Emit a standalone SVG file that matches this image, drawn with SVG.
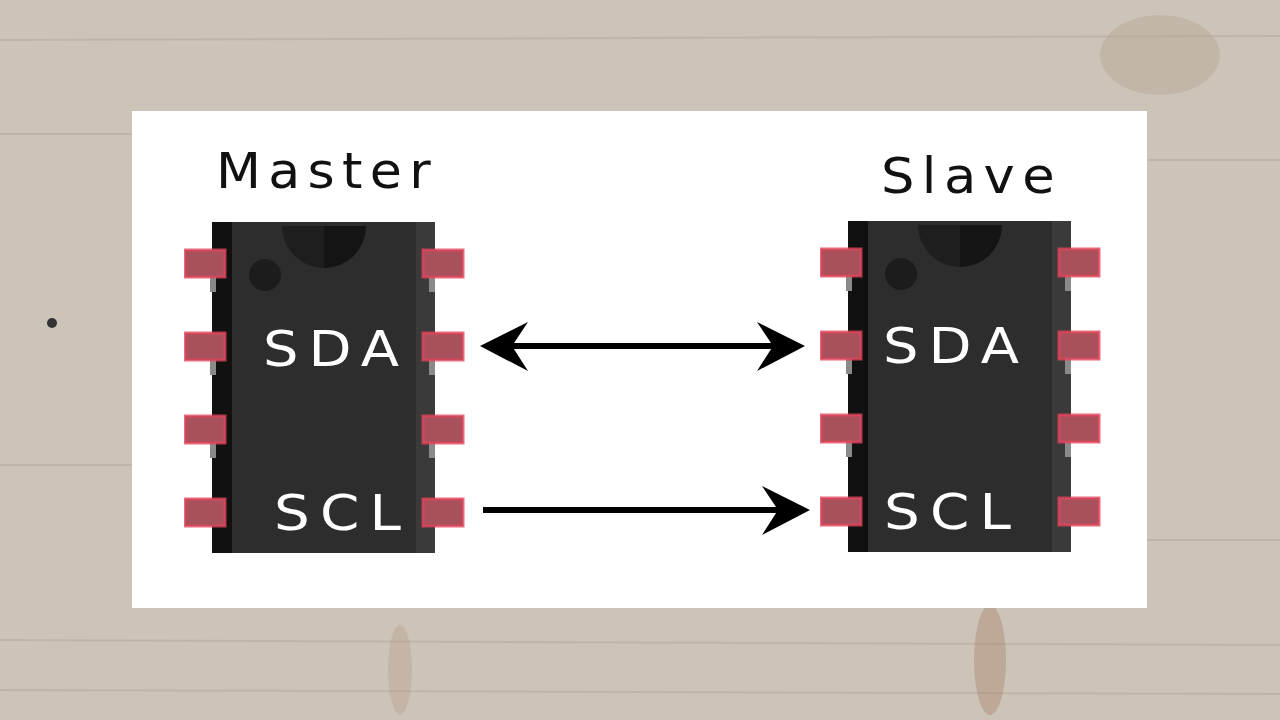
<svg xmlns="http://www.w3.org/2000/svg" width="1280" height="720" viewBox="0 0 1280 720">
<defs>
<style>
.body{fill:#2d2d2d}
.side{fill:#111}
.rside{fill:#3a3a3a}
.leg{fill:#8a8a8a}
.pad{fill:#a8505c;stroke:#e0455a;stroke-width:3;stroke-opacity:0.8}
.lbl{font-family:"DejaVu Sans",Verdana,sans-serif;fill:#fff;font-size:50px;letter-spacing:9px}
.ttl{font-family:"DejaVu Sans",Verdana,sans-serif;fill:#111;font-size:50px;letter-spacing:7px}
.ln{stroke:#000;stroke-width:6;fill:none}
</style>
<symbol id="chip" viewBox="0 0 290 332">
<rect x="28" y="0" width="223" height="331" class="body"/>
<rect x="28" y="0" width="20" height="331" class="side"/>
<rect x="232" y="0" width="19" height="331" class="rside"/>
<rect x="26" y="52" width="6" height="18" class="leg"/><rect x="26" y="135" width="6" height="18" class="leg"/><rect x="26" y="218" width="6" height="18" class="leg"/>
<rect x="245" y="52" width="6" height="18" class="leg"/><rect x="245" y="135" width="6" height="18" class="leg"/><rect x="245" y="218" width="6" height="18" class="leg"/>
<path d="M98 4 A42 42 0 0 0 182 4 Z" fill="#1e1e1e"/>
<path d="M140 4 L182 4 A42 42 0 0 1 140 46 Z" fill="#141414"/>
<circle cx="81" cy="53" r="16" fill="#1c1c1c"/>
<rect x="1" y="28" width="40" height="27" class="pad"/><rect x="1" y="111" width="40" height="27" class="pad"/><rect x="1" y="194" width="40" height="27" class="pad"/><rect x="1" y="277" width="40" height="27" class="pad"/>
<rect x="239" y="28" width="40" height="27" class="pad"/><rect x="239" y="111" width="40" height="27" class="pad"/><rect x="239" y="194" width="40" height="27" class="pad"/><rect x="239" y="277" width="40" height="27" class="pad"/>
</symbol>
</defs>
<rect width="1280" height="720" fill="#cdc4b9"/>
<g opacity="0.5" stroke="#b3a899" stroke-width="2">
<line x1="0" y1="40" x2="1280" y2="36"/><line x1="0" y1="134" x2="132" y2="134"/><line x1="0" y1="640" x2="1280" y2="645"/><line x1="0" y1="690" x2="1280" y2="694"/><line x1="1147" y1="160" x2="1280" y2="160"/><line x1="0" y1="465" x2="132" y2="465"/><line x1="1147" y1="540" x2="1280" y2="540"/>
</g>
<ellipse cx="1160" cy="55" rx="60" ry="40" fill="#b09e8a" opacity="0.35"/>
<ellipse cx="990" cy="660" rx="16" ry="55" fill="#a8826a" opacity="0.4"/>
<ellipse cx="400" cy="670" rx="12" ry="45" fill="#b59a86" opacity="0.35"/>
<circle cx="52" cy="323" r="5" fill="#333"/>
<rect x="132" y="111" width="1015" height="497" fill="#fff"/>
<g id="master">
<use href="#chip" x="184" y="222" width="290" height="332"/>
<text x="216" y="188" class="ttl" textLength="222" lengthAdjust="spacingAndGlyphs">Master</text>
<text x="263" y="366" class="lbl" textLength="146" lengthAdjust="spacingAndGlyphs">SDA</text>
<text x="274" y="530" class="lbl" textLength="137" lengthAdjust="spacingAndGlyphs">SCL</text>
</g>
<g id="slave">
<use href="#chip" x="820" y="221" width="290" height="332"/>
<text x="881" y="193" class="ttl" textLength="181" lengthAdjust="spacingAndGlyphs">Slave</text>
<text x="883" y="363" class="lbl" textLength="146" lengthAdjust="spacingAndGlyphs">SDA</text>
<text x="884" y="529" class="lbl" textLength="137" lengthAdjust="spacingAndGlyphs">SCL</text>
</g>
<g id="connectors">
<line x1="500" y1="346" x2="785" y2="346" class="ln"/>
<path d="M480 346 L528 322 L512 346 L528 371 Z" fill="#000"/>
<path d="M805 346 L757 322 L773 346 L757 371 Z" fill="#000"/>
<line x1="483" y1="510" x2="790" y2="510" class="ln"/>
<path d="M810 510 L762 486 L778 510 L762 535 Z" fill="#000"/>
</g>
</svg>
